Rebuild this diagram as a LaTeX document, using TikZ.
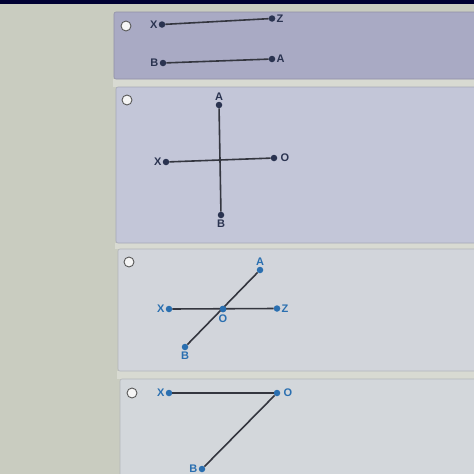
\documentclass[tikz,border=0pt]{standalone}
\usepackage{fontspec}
\setmainfont{Liberation Sans}
\begin{document}
\begin{tikzpicture}[x=1pt,y=-1pt,
  panel/.style={draw=#1!85!black, line width=0.6pt, fill=#1, rounded corners=2pt},
  radio/.style={circle, draw=gray!70!black, fill=white!92!gray, line width=0.9pt, minimum size=10pt, inner sep=0pt},
  ptd/.style={circle, fill=navy, inner sep=0pt, minimum size=6.5pt},
  ptb/.style={circle, fill=bluept, inner sep=0pt, minimum size=6.5pt},
  lbd/.style={font=\bfseries\fontsize{11}{12}\selectfont, text=navy, inner sep=1pt},
  lbb/.style={font=\bfseries\fontsize{11}{12}\selectfont, text=bluept, inner sep=1pt},
  seg/.style={line width=1.6pt, draw=lineg}
]
\definecolor{bg}{HTML}{C9CCC0}
\definecolor{gap}{HTML}{D8DAD2}
\definecolor{pone}{HTML}{A9AAC4}
\definecolor{ptwo}{HTML}{C3C6D8}
\definecolor{pthree}{HTML}{D2D5DB}
\definecolor{pfour}{HTML}{D3D7DB}
\definecolor{navy}{HTML}{2A3350}
\definecolor{bluept}{HTML}{2A6FB0}
\definecolor{lineg}{HTML}{34363F}
\useasboundingbox (0,0) rectangle (474,474);
\fill[bg] (0,0) rectangle (474,474);
\fill[gap] (113,79) rectangle (474,87);
\fill[gap] (115,243) rectangle (474,249);
\fill[gap] (117,371) rectangle (474,379);
\fill[black!80!blue] (0,0) rectangle (474,4);
% panels
\path[panel=pone] (114,12) rectangle (480,79);
\path[panel=ptwo] (116,87) rectangle (480,243);
\path[panel=pthree] (118,249) rectangle (480,371);
\path[panel=pfour] (120,379) rectangle (480,480);
% panel 1
\node[radio] (r1) at (126,26) {};
\node[ptd] (x1) at (162,24.5) {};
\node[ptd] (z1) at (272,18.5) {};
\node[ptd] (b1) at (163,63) {};
\node[ptd] (a1) at (272,59) {};
\node[lbd, anchor=east] (lx1) at (x1.west) {X};
\node[lbd, anchor=west] (lz1) at (z1.east) {Z};
\node[lbd, anchor=east] (lb1) at (b1.west) {B};
\node[lbd, anchor=west] (la1) at (a1.east) {A};
\draw[seg] (x1) -- (z1);
\draw[seg] (b1) -- (a1);
% panel 2
\node[radio] (r2) at (127,100) {};
\node[ptd] (a2) at (219,105) {};
\node[ptd] (b2) at (221,215) {};
\node[ptd] (x2) at (166,162) {};
\node[ptd] (o2) at (274,158) {};
\node[lbd, anchor=south] (la2) at (a2.north) {A};
\node[lbd, anchor=north] (lb2) at (b2.south) {B};
\node[lbd, anchor=east] (lx2) at (x2.west) {X};
\node[lbd, anchor=west, xshift=2pt] (lo2) at (o2.east) {O};
\draw[seg] (a2) -- (b2);
\draw[seg] (x2) -- (o2);
% panel 3
\node[radio] (r3) at (129,262) {};
\node[ptb] (a3) at (260,270) {};
\node[ptb] (b3) at (185,347) {};
\node[ptb] (x3) at (169,309) {};
\node[ptb] (z3) at (277,308.5) {};
\node[ptb] (o3) at (223,309) {};
\node[lbb, anchor=south] (la3) at (a3.north) {A};
\node[lbb, anchor=north] (lb3) at (b3.south) {B};
\node[lbb, anchor=east] (lx3) at (x3.west) {X};
\node[lbb, anchor=west] (lz3) at (z3.east) {Z};
\node[lbb, anchor=north, yshift=-1pt] (lo3) at (o3.south) {O};
\draw[seg] (x3) -- (z3);
\draw[seg] (b3) -- (a3);
\node[ptb] at (o3) {};
% panel 4
\node[radio] (r4) at (132,393) {};
\node[ptb] (x4) at (169,393) {};
\node[ptb] (o4) at (277,393) {};
\node[ptb] (b4) at (202,469) {};
\node[lbb, anchor=east] (lx4) at (x4.west) {X};
\node[lbb, anchor=west, xshift=2pt] (lo4) at (o4.east) {O};
\node[lbb, anchor=east] (lb4) at (b4.west) {B};
\draw[seg] (x4) -- (o4);
\draw[seg] (o4) -- (b4);
\end{tikzpicture}
\end{document}
